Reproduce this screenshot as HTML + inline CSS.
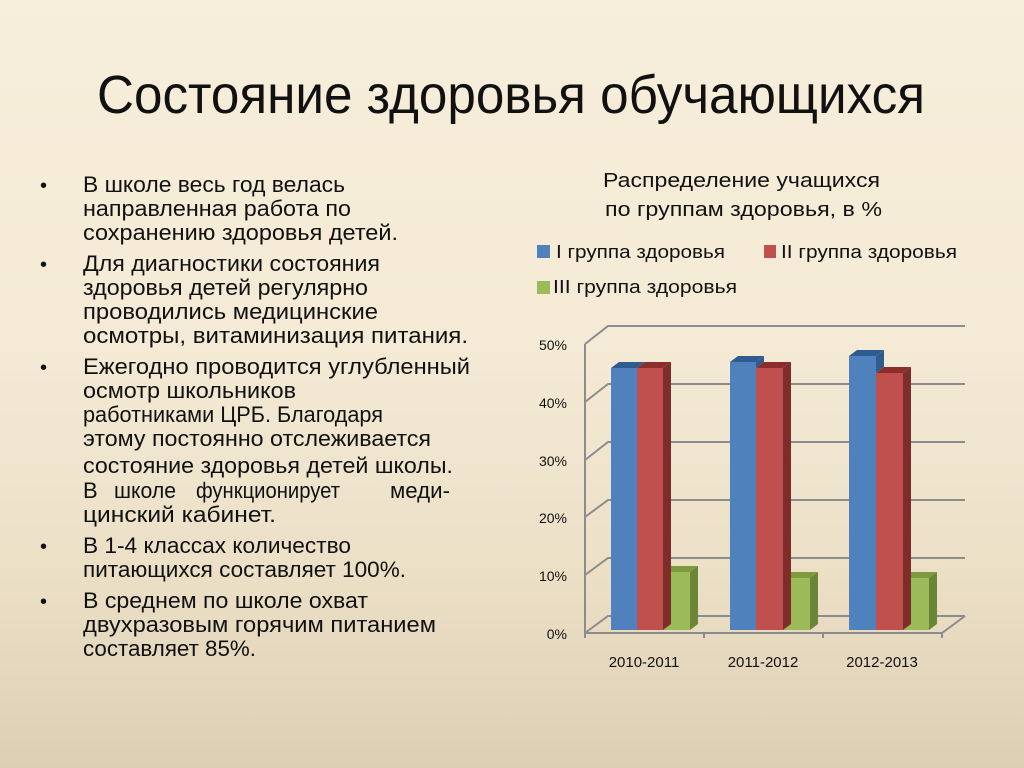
<!DOCTYPE html>
<html><head><meta charset="utf-8"><style>
html,body{margin:0;padding:0;}
body{width:1024px;height:768px;overflow:hidden;background:linear-gradient(180deg,#f7eedb 0%,#f4ead5 45%,#ebdfc6 75%,#ddcfb4 100%);}
svg{display:block;font-family:"Liberation Sans","DejaVu Sans",sans-serif;}
</style></head><body>
<svg width="1024" height="768" viewBox="0 0 1024 768">
<text x="97" y="113" font-size="54" fill="#111" textLength="828" lengthAdjust="spacingAndGlyphs">Состояние здоровья обучающихся</text>
<g font-size="22" fill="#111">
<g font-size="20"><text x="40" y="192">•</text><text x="40" y="271">•</text><text x="40" y="374">•</text><text x="40" y="553">•</text><text x="40" y="608">•</text></g>
<text x="83" y="192" textLength="262" lengthAdjust="spacingAndGlyphs">В школе весь год велась</text>
<text x="83" y="216" textLength="268" lengthAdjust="spacingAndGlyphs">направленная работа по</text>
<text x="83" y="240" textLength="315" lengthAdjust="spacingAndGlyphs">сохранению здоровья детей.</text>
<text x="83" y="271" textLength="297" lengthAdjust="spacingAndGlyphs">Для диагностики состояния</text>
<text x="83" y="295" textLength="285" lengthAdjust="spacingAndGlyphs">здоровья детей регулярно</text>
<text x="83" y="319" textLength="295" lengthAdjust="spacingAndGlyphs">проводились медицинские</text>
<text x="83" y="343" textLength="385" lengthAdjust="spacingAndGlyphs">осмотры,  витаминизация питания.</text>
<text x="83" y="374" textLength="387" lengthAdjust="spacingAndGlyphs">Ежегодно  проводится углубленный</text>
<text x="83" y="398" textLength="213" lengthAdjust="spacingAndGlyphs">осмотр школьников</text>
<text x="83" y="422" textLength="300" lengthAdjust="spacingAndGlyphs">работниками   ЦРБ. Благодаря</text>
<text x="83" y="446" textLength="348" lengthAdjust="spacingAndGlyphs">этому постоянно отслеживается</text>
<text x="83" y="473" textLength="370" lengthAdjust="spacingAndGlyphs">состояние здоровья детей школы.</text>
<text x="83" y="498">В</text>
<text x="114" y="498" textLength="62" lengthAdjust="spacingAndGlyphs">школе</text>
<text x="196" y="498" textLength="144" lengthAdjust="spacingAndGlyphs">функционирует</text>
<text x="390" y="498" textLength="60" lengthAdjust="spacingAndGlyphs">меди-</text>
<text x="83" y="522" textLength="193" lengthAdjust="spacingAndGlyphs">цинский  кабинет.</text>
<text x="83" y="553" textLength="268" lengthAdjust="spacingAndGlyphs">В 1-4 классах количество</text>
<text x="83" y="577" textLength="323" lengthAdjust="spacingAndGlyphs">питающихся составляет 100%.</text>
<text x="83" y="608" textLength="285" lengthAdjust="spacingAndGlyphs">В среднем по школе охват</text>
<text x="83" y="632" textLength="353" lengthAdjust="spacingAndGlyphs">двухразовым горячим питанием</text>
<text x="83" y="656" textLength="173" lengthAdjust="spacingAndGlyphs">составляет 85%.</text>
</g>
<g font-size="20" fill="#111">
<text x="603" y="187" textLength="277" lengthAdjust="spacingAndGlyphs">Распределение учащихся</text>
<text x="605" y="216" textLength="277" lengthAdjust="spacingAndGlyphs">по группам здоровья, в %</text>
</g>
<g font-size="18" fill="#111">
<rect x="537" y="245" width="13" height="13" fill="#4f81bd"/>
<text x="556" y="258" textLength="169" lengthAdjust="spacingAndGlyphs">I группа здоровья</text>
<rect x="764" y="245" width="12" height="13" fill="#c0504d"/>
<text x="781" y="258" textLength="176" lengthAdjust="spacingAndGlyphs">II группа здоровья</text>
<rect x="537" y="281" width="13" height="13" fill="#9bbb59"/>
<text x="553" y="293" textLength="184" lengthAdjust="spacingAndGlyphs">III группа здоровья</text>
</g>
<g stroke="#8c8c8c" stroke-width="2" fill="none">
<polyline points="585,344 608,326 965,326"/>
<polyline points="585,402 608,384 965,384"/>
<polyline points="585,460 608,442 965,442"/>
<polyline points="585,517 608,500 965,500"/>
<polyline points="585,575 608,558 965,558"/>
<polyline points="585,633 608,616 965,616"/>
<line x1="585" y1="344" x2="585" y2="636"/>
<line x1="585" y1="633" x2="942" y2="633"/>
<line x1="942" y1="633" x2="965" y2="616"/>
<line x1="585" y1="633" x2="585" y2="638"/><line x1="704" y1="633" x2="704" y2="638"/><line x1="823" y1="633" x2="823" y2="638"/><line x1="942" y1="633" x2="942" y2="638"/>
</g>
<g font-size="14" fill="#111" text-anchor="end">
<text x="567" y="350">50%</text><text x="567" y="408">40%</text><text x="567" y="466">30%</text><text x="567" y="523">20%</text><text x="567" y="581">10%</text><text x="567" y="639">0%</text>
</g>
<g font-size="15" fill="#111" text-anchor="middle">
<text x="644" y="667">2010-2011</text><text x="763" y="667">2011-2012</text><text x="882" y="667">2012-2013</text>
</g>
<g>
<polygon points="663,572 671,566 698,566 690,572" fill="#7d9a3f"/><polygon points="690,572 698,566 698,624 690,630" fill="#6a8535"/><rect x="663" y="572" width="27" height="58" fill="#9bbb59"/>
<polygon points="637,368 645,362 671,362 663,368" fill="#8c2f2c"/><polygon points="663,368 671,362 671,624 663,630" fill="#7f2d2b"/><rect x="637" y="368" width="26" height="262" fill="#c0504d"/>
<polygon points="611,368 619,362 645,362 637,368" fill="#2e5c8f"/><rect x="611" y="368" width="26" height="262" fill="#4f81bd"/>
<polygon points="783,578 791,572 818,572 810,578" fill="#7d9a3f"/><polygon points="810,578 818,572 818,624 810,630" fill="#6a8535"/><rect x="783" y="578" width="27" height="52" fill="#9bbb59"/>
<polygon points="756,368 764,362 791,362 783,368" fill="#8c2f2c"/><polygon points="783,368 791,362 791,624 783,630" fill="#7f2d2b"/><rect x="756" y="368" width="27" height="262" fill="#c0504d"/>
<polygon points="730,362 738,356 764,356 756,362" fill="#2e5c8f"/><polygon points="756,362 764,356 764,362 756,368" fill="#2e5c8f"/><rect x="730" y="362" width="26" height="268" fill="#4f81bd"/>
<polygon points="903,578 911,572 937,572 929,578" fill="#7d9a3f"/><polygon points="929,578 937,572 937,624 929,630" fill="#6a8535"/><rect x="903" y="578" width="26" height="52" fill="#9bbb59"/>
<polygon points="876,373 884,367 911,367 903,373" fill="#8c2f2c"/><polygon points="903,373 911,367 911,624 903,630" fill="#7f2d2b"/><rect x="876" y="373" width="27" height="257" fill="#c0504d"/>
<polygon points="849,356 857,350 884,350 876,356" fill="#2e5c8f"/><polygon points="876,356 884,350 884,367 876,373" fill="#2e5c8f"/><rect x="849" y="356" width="27" height="274" fill="#4f81bd"/>
</g>
</svg>
</body></html>
